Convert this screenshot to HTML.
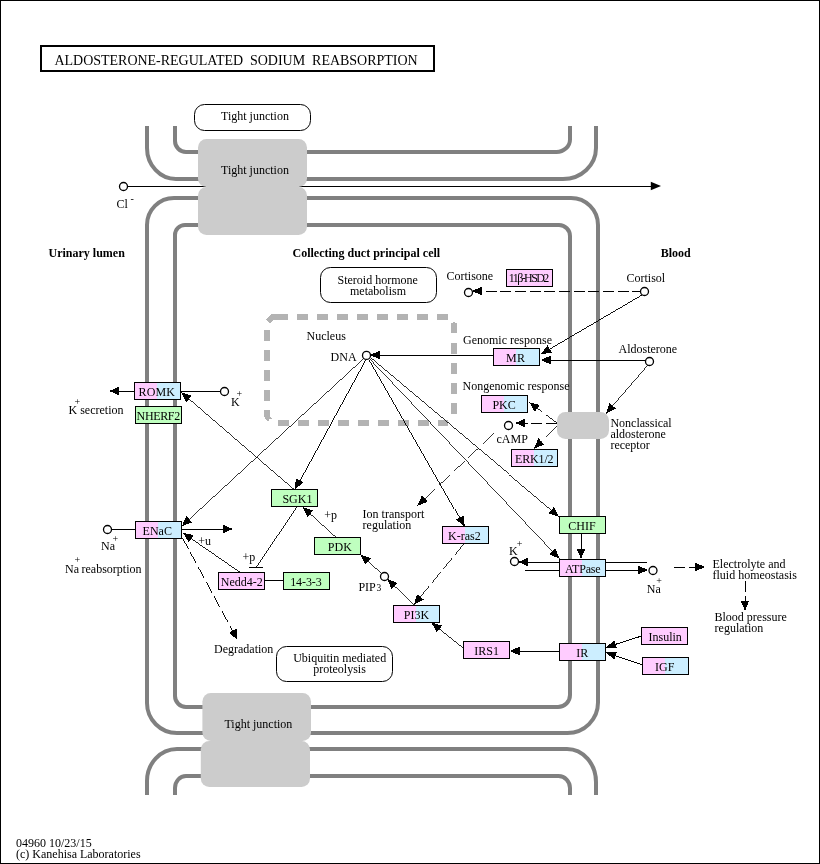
<!DOCTYPE html>
<html lang="en"><head><meta charset="utf-8"><title>Aldosterone-regulated sodium reabsorption</title>
<style>html,body{margin:0;padding:0;background:#fff;overflow:hidden}svg{display:block;will-change:transform}</style></head>
<body>
<svg width="820" height="864" viewBox="0 0 820 864" font-family="'Liberation Serif', serif" font-size="12" fill="#000">
<rect x="0" y="0" width="820" height="864" fill="#fff"/>
<rect x="0.5" y="0.5" width="819" height="863" fill="none" stroke="#000" stroke-width="1"/>
<rect x="41" y="46" width="393" height="25" fill="#fff" stroke="#000" stroke-width="2"/>
<text x="54.4" y="65" font-size="14" textLength="363.3" lengthAdjust="spacing">ALDOSTERONE-REGULATED&#160; SODIUM&#160; REABSORPTION</text>
<g id="membranes">
<path d="M147,126 V148 A29,31 0 0 0 176,179 H563 A33,31 0 0 0 596,148 V126" fill="none" stroke="#808080" stroke-width="4"/>
<path d="M175,126 V141 A11,11 0 0 0 186,152 H556.5 A13.5,12.5 0 0 0 570,139.5 V126" fill="none" stroke="#808080" stroke-width="4"/>
<path d="M147,225 A27,27 0 0 1 174,198 H571 A27,27 0 0 1 598,225 V702.5 A30.5,30.5 0 0 1 567.5,733 H177 A30,30 0 0 1 147,703 Z" fill="none" stroke="#808080" stroke-width="4"/>
<path d="M175,235 A10,10 0 0 1 185,225 H559 A11,11 0 0 1 570,236 V695 A12,12 0 0 1 558,707 H186 A11,11 0 0 1 175,696 Z" fill="none" stroke="#808080" stroke-width="4"/>
<path d="M147,795 V781 A30,32 0 0 1 177,749 H567 A29,33 0 0 1 596,782 V795" fill="none" stroke="#808080" stroke-width="4"/>
<path d="M175,795 V788 A11,12 0 0 1 186,776 H558.5 A11.5,12 0 0 1 570,788 V795" fill="none" stroke="#808080" stroke-width="4"/>
</g>
<line x1="128" y1="186.5" x2="655" y2="186.5" stroke="#000" stroke-width="1"/>
<polygon points="661.00,186.00 650.80,190.30 650.80,181.70" fill="#000"/>
<rect x="198" y="139" width="109" height="48" rx="8.5" ry="8.5" fill="#cccccc"/>
<rect x="198" y="187" width="109" height="48" rx="8.5" ry="8.5" fill="#cccccc"/>
<rect x="202.4" y="693" width="108.6" height="48" rx="8.5" ry="8.5" fill="#cccccc"/>
<rect x="200.8" y="741" width="109.2" height="46" rx="8.5" ry="8.5" fill="#cccccc"/>
<rect x="557" y="412" width="52" height="27" rx="8.5" ry="8.5" fill="#cccccc"/>
<g id="nucleus" fill="#b3b3b3" shape-rendering="crispEdges">
<rect x="277" y="314" width="11" height="6"/>
<rect x="278" y="420" width="11" height="6"/>
<rect x="297" y="314" width="11" height="6"/>
<rect x="298" y="420" width="11" height="6"/>
<rect x="317" y="314" width="11" height="6"/>
<rect x="318" y="420" width="11" height="6"/>
<rect x="337" y="314" width="11" height="6"/>
<rect x="338" y="420" width="11" height="6"/>
<rect x="357" y="314" width="11" height="6"/>
<rect x="358" y="420" width="11" height="6"/>
<rect x="377" y="314" width="11" height="6"/>
<rect x="378" y="420" width="11" height="6"/>
<rect x="397" y="314" width="11" height="6"/>
<rect x="398" y="420" width="11" height="6"/>
<rect x="417" y="314" width="11" height="6"/>
<rect x="418" y="420" width="11" height="6"/>
<rect x="437" y="314" width="10.5" height="6"/>
<rect x="438" y="420" width="10" height="6"/>
<rect x="264" y="330" width="6" height="11"/>
<rect x="451" y="323" width="6" height="10"/>
<rect x="264" y="350" width="6" height="11"/>
<rect x="451" y="343" width="6" height="10.6"/>
<rect x="264" y="370" width="6" height="11"/>
<rect x="451" y="363" width="6" height="10.6"/>
<rect x="264" y="390" width="6" height="11"/>
<rect x="451" y="383" width="6" height="10.6"/>
<rect x="451" y="403" width="6" height="10.6"/>
<path d="M452,323 Q454,321.6 456,323 Z"/>
<polygon points="266,319.6 271.5,314 277,314 277,320 273,320 270,323"/>
<polygon points="264,410 270,410 270,416 271.6,418.5 270,418.5 267.8,421.9 264,416.5"/>
</g>
<rect x="194.5" y="104.5" width="116" height="26" rx="10" ry="10" fill="#fff" stroke="#000" stroke-width="1"/>
<rect x="320.5" y="267.5" width="116" height="35" rx="10" ry="10" fill="#fff" stroke="#000" stroke-width="1"/>
<rect x="276.5" y="646.5" width="116" height="35" rx="10" ry="10" fill="#fff" stroke="#000" stroke-width="1"/>
<g id="edges" shape-rendering="crispEdges">
<line x1="363.6" y1="358.7" x2="181.8" y2="526.2" stroke="#000" stroke-width="0.794"/>
<polygon points="181.80,526.20 186.39,516.13 192.22,522.45" fill="#000"/>
<line x1="365.5" y1="359.5" x2="294.8" y2="489.3" stroke="#000" stroke-width="0.948"/>
<polygon points="294.80,489.30 295.90,478.29 303.46,482.40" fill="#000"/>
<line x1="369.3" y1="359.5" x2="464.8" y2="526.5" stroke="#000" stroke-width="0.938"/>
<polygon points="464.80,526.50 456.00,519.78 463.47,515.51" fill="#000"/>
<line x1="370.5" y1="358.3" x2="559" y2="516.7" stroke="#000" stroke-width="0.827"/>
<polygon points="559.00,516.70 548.42,513.43 553.96,506.85" fill="#000"/>
<line x1="370" y1="359.3" x2="559.5" y2="558.8" stroke="#000" stroke-width="0.783"/>
<polygon points="559.50,558.80 549.36,554.37 555.59,548.44" fill="#000"/>
<line x1="493" y1="355.5" x2="372" y2="355.5" stroke="#000" stroke-width="1"/>
<polygon points="369.80,355.00 380.00,350.70 380.00,359.30" fill="#000"/>
<line x1="642" y1="295" x2="541" y2="354.2" stroke="#000" stroke-width="0.932"/>
<polygon points="541.00,354.20 547.63,345.33 551.97,352.75" fill="#000"/>
<line x1="645" y1="360.5" x2="545" y2="360.5" stroke="#000" stroke-width="1"/>
<polygon points="540.50,360.00 550.70,355.70 550.70,364.30" fill="#000"/>
<line x1="648" y1="365" x2="606" y2="413.5" stroke="#000" stroke-width="0.816"/>
<polygon points="606.00,413.50 609.43,402.97 615.93,408.60" fill="#000"/>
<line x1="643.2" y1="291.5" x2="473" y2="291.5" stroke="#000" stroke-width="1" stroke-dasharray="11.00 3.67"/>
<polygon points="471.70,291.00 481.90,286.70 481.90,295.30" fill="#000"/>
<line x1="557" y1="423" x2="529.2" y2="402.2" stroke="#000" stroke-width="0.865" stroke-dasharray="13.74 4.58"/>
<polygon points="529.20,402.20 539.94,404.87 534.79,411.75" fill="#000"/>
<line x1="557" y1="423.5" x2="520" y2="423.5" stroke="#000" stroke-width="1" stroke-dasharray="11.00 3.67"/>
<polygon points="515.00,423.00 525.20,418.70 525.20,427.30" fill="#000"/>
<line x1="557" y1="426.5" x2="534" y2="448.5" stroke="#000" stroke-width="0.78" stroke-dasharray="15.22 5.08"/>
<polygon points="534.00,448.50 538.40,438.34 544.34,444.56" fill="#000"/>
<line x1="494" y1="433.5" x2="417.4" y2="505.7" stroke="#000" stroke-width="0.786" stroke-dasharray="15.12 5.04"/>
<polygon points="417.40,505.70 421.87,495.57 427.77,501.83" fill="#000"/>
<line x1="181" y1="391.5" x2="220" y2="391.5" stroke="#000" stroke-width="1"/>
<line x1="135" y1="391.5" x2="115" y2="391.5" stroke="#000" stroke-width="1"/>
<polygon points="109.00,391.00 119.20,386.70 119.20,395.30" fill="#000"/>
<line x1="293.5" y1="489" x2="181.3" y2="392.3" stroke="#000" stroke-width="0.818"/>
<polygon points="181.30,392.30 191.83,395.70 186.22,402.22" fill="#000"/>
<line x1="112" y1="529.5" x2="135" y2="529.5" stroke="#000" stroke-width="1"/>
<line x1="181" y1="529.5" x2="228" y2="529.5" stroke="#000" stroke-width="1"/>
<polygon points="233.00,529.00 222.80,533.30 222.80,524.70" fill="#000"/>
<line x1="182.3" y1="537.6" x2="237.5" y2="639.8" stroke="#000" stroke-width="0.95" stroke-dasharray="12.50 4.17"/>
<polygon points="237.50,639.80 228.87,632.87 236.44,628.78" fill="#000"/>
<line x1="240" y1="572.3" x2="182.8" y2="532.8" stroke="#000" stroke-width="0.889"/>
<polygon points="182.80,532.80 193.64,535.06 188.75,542.13" fill="#000"/>
<line x1="296.7" y1="507" x2="256.3" y2="567.5" stroke="#000" stroke-width="0.898"/>
<line x1="249" y1="567.5" x2="263" y2="567.5" stroke="#000" stroke-width="1"/>
<line x1="265" y1="580.5" x2="283" y2="580.5" stroke="#000" stroke-width="1"/>
<line x1="336" y1="537.3" x2="302.7" y2="507" stroke="#000" stroke-width="0.799"/>
<polygon points="302.70,507.00 313.14,510.68 307.35,517.05" fill="#000"/>
<line x1="381.5" y1="573.5" x2="360.6" y2="554.6" stroke="#000" stroke-width="0.801"/>
<polygon points="360.60,554.60 371.05,558.25 365.28,564.63" fill="#000"/>
<line x1="413.7" y1="604.8" x2="387.3" y2="579" stroke="#000" stroke-width="0.772"/>
<polygon points="387.30,579.00 397.60,583.05 391.59,589.20" fill="#000"/>
<line x1="464" y1="543.8" x2="413.9" y2="604.8" stroke="#000" stroke-width="0.835" stroke-dasharray="14.23 3.88"/>
<polygon points="413.90,604.80 417.05,594.19 423.70,599.65" fill="#000"/>
<line x1="463" y1="647.8" x2="431.4" y2="622.6" stroke="#000" stroke-width="0.844"/>
<polygon points="431.40,622.60 442.06,625.60 436.69,632.32" fill="#000"/>
<line x1="559" y1="651.5" x2="515" y2="651.5" stroke="#000" stroke-width="1"/>
<polygon points="509.50,651.00 519.70,646.70 519.70,655.30" fill="#000"/>
<line x1="641" y1="636.2" x2="606" y2="647.4" stroke="#000" stroke-width="1.029"/>
<polygon points="606.00,647.40 614.40,640.20 617.03,648.39" fill="#000"/>
<line x1="642" y1="664.7" x2="606" y2="652.5" stroke="#000" stroke-width="1.023"/>
<polygon points="606.00,652.50 617.04,651.70 614.28,659.85" fill="#000"/>
<line x1="581.5" y1="534" x2="581.5" y2="555" stroke="#000" stroke-width="1"/>
<polygon points="581.00,559.00 576.70,548.80 585.30,548.80" fill="#000"/>
<line x1="559" y1="562.5" x2="522" y2="562.5" stroke="#000" stroke-width="1"/>
<polygon points="518.00,562.00 528.20,557.70 528.20,566.30" fill="#000"/>
<line x1="525" y1="570.5" x2="559" y2="570.5" stroke="#000" stroke-width="1"/>
<line x1="606" y1="562.5" x2="647" y2="562.5" stroke="#000" stroke-width="1"/>
<line x1="606" y1="570.5" x2="644" y2="570.5" stroke="#000" stroke-width="1"/>
<polygon points="648.30,570.00 638.10,574.30 638.10,565.70" fill="#000"/>
<line x1="674" y1="567.5" x2="700" y2="567.5" stroke="#000" stroke-width="1" stroke-dasharray="11.00 3.67"/>
<polygon points="705.30,567.00 695.10,571.30 695.10,562.70" fill="#000"/>
<line x1="745.5" y1="581" x2="745.5" y2="606" stroke="#000" stroke-width="1" stroke-dasharray="11.00 3.67"/>
<polygon points="745.00,610.80 740.70,600.60 749.30,600.60" fill="#000"/>
</g>
<g id="compounds">
<circle cx="123.5" cy="186.5" r="4" fill="#fff" stroke="#000" stroke-width="1.3"/>
<circle cx="224.5" cy="391.5" r="4" fill="#fff" stroke="#000" stroke-width="1.3"/>
<circle cx="366.5" cy="355.4" r="4" fill="#fff" stroke="#000" stroke-width="1.3"/>
<circle cx="468.5" cy="292.5" r="4" fill="#fff" stroke="#000" stroke-width="1.3"/>
<circle cx="644.5" cy="291.5" r="4" fill="#fff" stroke="#000" stroke-width="1.3"/>
<circle cx="649.5" cy="361.5" r="4" fill="#fff" stroke="#000" stroke-width="1.3"/>
<circle cx="508.5" cy="425.5" r="4" fill="#fff" stroke="#000" stroke-width="1.3"/>
<circle cx="107.5" cy="529.5" r="4" fill="#fff" stroke="#000" stroke-width="1.3"/>
<circle cx="384.5" cy="576.5" r="4" fill="#fff" stroke="#000" stroke-width="1.3"/>
<circle cx="514.5" cy="561.5" r="4" fill="#fff" stroke="#000" stroke-width="1.3"/>
<circle cx="653" cy="570.5" r="4" fill="#fff" stroke="#000" stroke-width="1.3"/>
</g>
<g id="genes">
<rect x="134" y="382" width="23" height="18" fill="#ffccff"/>
<rect x="157" y="382" width="24" height="18" fill="#cceeff"/>
<rect x="134.5" y="382.5" width="46" height="17" fill="none" stroke="#000" stroke-width="1"/>
<text x="138.6" y="395.6" textLength="36.2" lengthAdjust="spacing">ROMK</text>
<rect x="135.5" y="406.5" width="46" height="17" fill="#bfffbf" stroke="#000" stroke-width="1"/>
<text x="136.6" y="419.6" textLength="43.6" lengthAdjust="spacing">NHERF2</text>
<rect x="135" y="521" width="23" height="18" fill="#ffccff"/>
<rect x="158" y="521" width="24" height="18" fill="#cceeff"/>
<rect x="135.5" y="521.5" width="46" height="17" fill="none" stroke="#000" stroke-width="1"/>
<text x="142.6" y="534.6">ENaC</text>
<rect x="271.5" y="489.5" width="46" height="17" fill="#bfffbf" stroke="#000" stroke-width="1"/>
<text x="282.4" y="502.6">SGK1</text>
<rect x="314.5" y="537.5" width="46" height="17" fill="#bfffbf" stroke="#000" stroke-width="1"/>
<text x="327.8" y="550.6">PDK</text>
<rect x="218.5" y="572.5" width="46" height="17" fill="#ffccff" stroke="#000" stroke-width="1"/>
<text x="220.8" y="586.3" textLength="42" lengthAdjust="spacing">Nedd4-2</text>
<rect x="283.5" y="572.5" width="46" height="17" fill="#bfffbf" stroke="#000" stroke-width="1"/>
<text x="290.2" y="585.6" textLength="31.5" lengthAdjust="spacing">14-3-3</text>
<rect x="393" y="605" width="23" height="18" fill="#ffccff"/>
<rect x="416" y="605" width="24" height="18" fill="#cceeff"/>
<rect x="393.5" y="605.5" width="46" height="17" fill="none" stroke="#000" stroke-width="1"/>
<text x="403.8" y="618.6">PI3K</text>
<rect x="442" y="526" width="23" height="18" fill="#ffccff"/>
<rect x="465" y="526" width="24" height="18" fill="#cceeff"/>
<rect x="442.5" y="526.5" width="46" height="17" fill="none" stroke="#000" stroke-width="1"/>
<text x="448" y="539.6">K-ras2</text>
<rect x="511" y="449" width="23" height="18" fill="#ffccff"/>
<rect x="534" y="449" width="24" height="18" fill="#cceeff"/>
<rect x="511.5" y="449.5" width="46" height="17" fill="none" stroke="#000" stroke-width="1"/>
<text x="515" y="462.6" textLength="38.6" lengthAdjust="spacing">ERK1/2</text>
<rect x="559.5" y="516.5" width="46" height="17" fill="#bfffbf" stroke="#000" stroke-width="1"/>
<text x="568.3" y="529.6">CHIF</text>
<rect x="559" y="559" width="23" height="18" fill="#ffccff"/>
<rect x="582" y="559" width="24" height="18" fill="#cceeff"/>
<rect x="559.5" y="559.5" width="46" height="17" fill="none" stroke="#000" stroke-width="1"/>
<text x="565" y="573.3" textLength="35.5" lengthAdjust="spacing">ATPase</text>
<rect x="559" y="643" width="23" height="18" fill="#ffccff"/>
<rect x="582" y="643" width="24" height="18" fill="#cceeff"/>
<rect x="559.5" y="643.5" width="46" height="17" fill="none" stroke="#000" stroke-width="1"/>
<text x="576.3" y="656.6">IR</text>
<rect x="463.5" y="641.5" width="46" height="17" fill="#ffccff" stroke="#000" stroke-width="1"/>
<text x="474.3" y="655.3">IRS1</text>
<rect x="641.5" y="627.5" width="46" height="17" fill="#ffccff" stroke="#000" stroke-width="1"/>
<text x="648.5" y="640.6">Insulin</text>
<rect x="642" y="657" width="23" height="18" fill="#ffccff"/>
<rect x="665" y="657" width="24" height="18" fill="#cceeff"/>
<rect x="642.5" y="657.5" width="46" height="17" fill="none" stroke="#000" stroke-width="1"/>
<text x="655" y="670.6">IGF</text>
<rect x="493" y="348" width="23" height="18" fill="#ffccff"/>
<rect x="516" y="348" width="24" height="18" fill="#cceeff"/>
<rect x="493.5" y="348.5" width="46" height="17" fill="none" stroke="#000" stroke-width="1"/>
<text x="506" y="361.6" textLength="19" lengthAdjust="spacing">MR</text>
<rect x="481" y="395" width="23" height="18" fill="#ffccff"/>
<rect x="504" y="395" width="24" height="18" fill="#cceeff"/>
<rect x="481.5" y="395.5" width="46" height="17" fill="none" stroke="#000" stroke-width="1"/>
<text x="492.4" y="408.6">PKC</text>
<rect x="506.5" y="269.5" width="46" height="17" fill="#ffccff" stroke="#000" stroke-width="1"/>
<text x="508.8" y="282.2" textLength="40.5" lengthAdjust="spacing">11β-HSD2</text>
</g>
<g id="labels">
<text x="221" y="120">Tight junction</text>
<text x="221" y="174">Tight junction</text>
<text x="224.4" y="728">Tight junction</text>
<text x="116.6" y="208">Cl</text>
<text x="130.5" y="201.5" font-size="10">-</text>
<text x="48.5" y="257" font-weight="bold">Urinary lumen</text>
<text x="292.5" y="256.6" font-weight="bold">Collecting duct principal cell</text>
<text x="660.7" y="256.5" font-weight="bold">Blood</text>
<text x="337.5" y="284">Steroid hormone</text>
<text x="350" y="295">metabolism</text>
<text x="446.5" y="279.7">Cortisone</text>
<text x="626.5" y="282">Cortisol</text>
<text x="306.5" y="340">Nucleus</text>
<text x="330.6" y="360.8">DNA</text>
<text x="463" y="344">Genomic response</text>
<text x="618.5" y="353">Aldosterone</text>
<text x="462.5" y="389.5">Nongenomic response</text>
<text x="496.5" y="443">cAMP</text>
<text x="610.4" y="426.7">Nonclassical</text>
<text x="610.4" y="437.7">aldosterone</text>
<text x="610.4" y="448.7">receptor</text>
<text x="231" y="406">K</text>
<text x="236.5" y="397" font-size="10">+</text>
<text x="68.4" y="414">K</text>
<text x="74.5" y="405" font-size="10">+</text>
<text x="80.2" y="414">secretion</text>
<text x="101" y="550">Na</text>
<text x="112.5" y="541.5" font-size="10">+</text>
<text x="65" y="573">Na</text>
<text x="74.5" y="563" font-size="10">+</text>
<text x="81.5" y="573">reabsorption</text>
<text x="198.2" y="544.8">+u</text>
<text x="324.3" y="518.5">+p</text>
<text x="242.4" y="561">+p</text>
<text x="362.6" y="517.5">Ion transport</text>
<text x="362.6" y="528.5">regulation</text>
<text x="358.4" y="590.5">PIP</text>
<text x="376.5" y="590.7" font-size="9.5">3</text>
<text x="509" y="554.5">K</text>
<text x="516.7" y="547" font-size="10">+</text>
<text x="646.8" y="592.5">Na</text>
<text x="656.3" y="584" font-size="10">+</text>
<text x="712.5" y="568">Electrolyte and</text>
<text x="712.5" y="578.5">fluid homeostasis</text>
<text x="714.5" y="621">Blood pressure</text>
<text x="714.6" y="631.5">regulation</text>
<text x="214" y="653">Degradation</text>
<text x="293.2" y="662">Ubiquitin mediated</text>
<text x="313.2" y="673">proteolysis</text>
<text x="16" y="846.5">04960 10/23/15</text>
<text x="16" y="857.5">(c) Kanehisa Laboratories</text>
</g>
</svg>
</body></html>
